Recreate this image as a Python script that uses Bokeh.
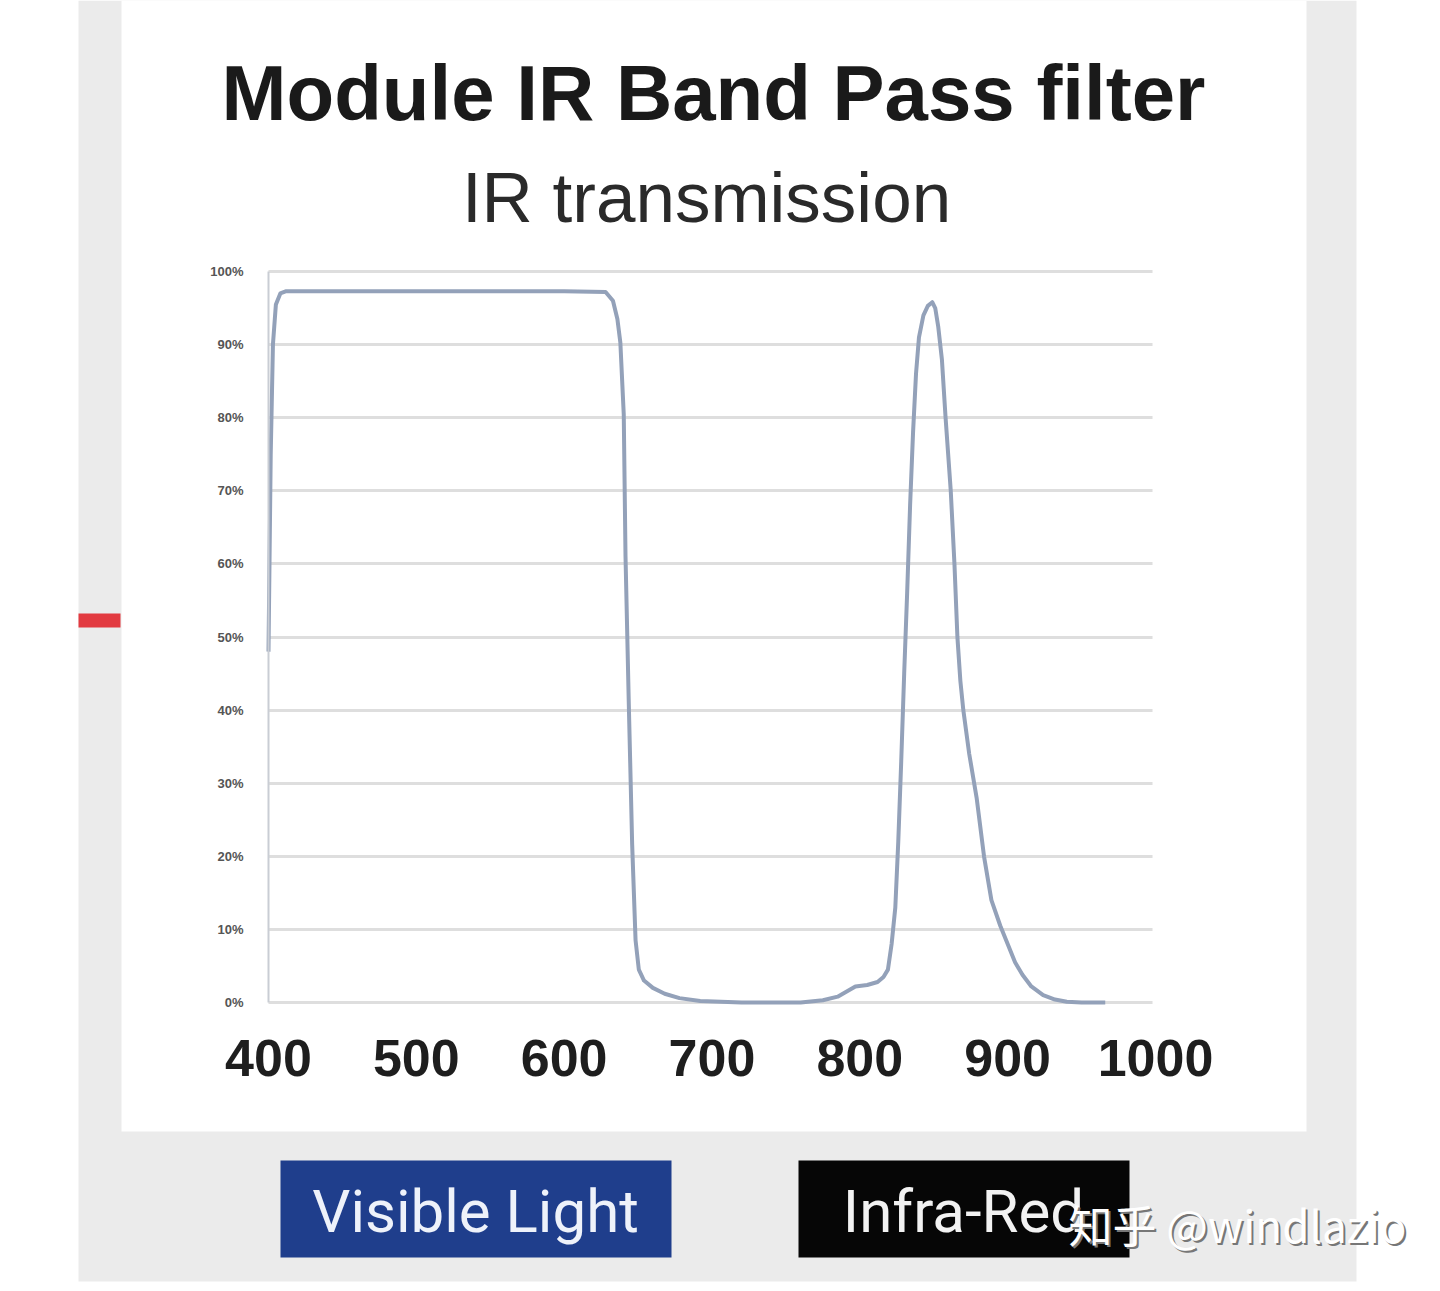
from bokeh.plotting import figure
from bokeh.models import Range1d, LinearAxis, FixedTicker, PrintfTickFormatter, Grid
from bokeh.core.properties import value
from bokeh.embed import file_html
from bokeh.resources import INLINE

# ---------------- data ----------------
title_text = "Module IR Band Pass filter"
subtitle_text = "IR transmission"
button_labels = ["Visible Light", "Infra-Red"]
watermark_text = "知乎 @windlazio"

wavelength_nm = [400, 401.5, 403, 405, 408, 412, 500, 600, 628, 633, 636, 638, 640.3, 641.5,
                 643.7, 646, 648.3, 650.5, 654, 660, 668, 678, 692, 720, 760, 775, 785, 792,
                 797, 805, 812, 816, 819, 821.5, 824, 826, 828, 830, 832, 834, 836, 838, 840,
                 843, 846, 849, 851, 853, 855.5, 858, 861.5, 864, 866, 868, 870, 874, 879, 884,
                 889, 895, 900, 905, 910, 916, 924, 932, 940, 950, 966]
transmission_pct = [48, 75, 90, 95.5, 97, 97.3, 97.3, 97.3, 97.2, 96, 93.5, 90.3, 80.5, 61,
                    41, 21.6, 8.5, 4.5, 3, 2, 1.2, 0.6, 0.2, 0, 0, 0.3, 0.8, 1.6,
                    2.2, 2.4, 2.8, 3.5, 4.5, 8, 13, 22, 33, 45, 56, 68, 78, 86, 91,
                    94, 95.3, 95.8, 95, 92.5, 88, 80, 70, 60, 50, 44, 40, 34, 28, 20,
                    14, 10.5, 8, 5.5, 3.8, 2.2, 1, 0.4, 0.1, 0, 0]
x_ticks = [400, 500, 600, 700, 800, 900, 1000]
y_ticks = [0, 10, 20, 30, 40, 50, 60, 70, 80, 90, 100]

# ---------------- layout (window pixels) ----------------
W, H = 1424, 1287
OX, OY = 0, 0
PX_X0, PX_X1 = 268, 1155   # pixel of 400 nm / 1000 nm
PX_Y0, PX_Y1 = 1002, 271   # pixel of 0 % / 100 %

sx = (PX_X1 - PX_X0) / (x_ticks[-1] - x_ticks[0])
sy = (PX_Y0 - PX_Y1) / (y_ticks[-1] - y_ticks[0])
x_start = x_ticks[0] - (PX_X0 - OX) / sx
x_end = x_ticks[0] + (OX + W - PX_X0) / sx
y_start = y_ticks[0] - (OY + H - PX_Y0) / sy
y_end = y_ticks[-1] + (PX_Y1 - OY) / sy

p = figure(width=W, height=H, x_range=Range1d(x_start, x_end), y_range=Range1d(y_start, y_end),
           x_axis_location=None, y_axis_location=None, toolbar_location=None,
           output_backend="svg", min_border=0, background_fill_color="white",
           border_fill_color="white", outline_line_color=None, title=None)
p.xgrid.visible = False
p.ygrid.visible = False

p.extra_x_ranges = {"px": Range1d(OX, OX + W)}
p.extra_y_ranges = {"py": Range1d(OY + H, OY)}

PIX = dict(x_range_name="px", y_range_name="py")

# background panels
p.quad(left=[78], right=[1356], top=[0], bottom=[1281], fill_color="#ebebeb",
       line_color=None, level="image", **PIX)
p.quad(left=[121], right=[1306], top=[0], bottom=[1131], fill_color="#ffffff",
       line_color=None, level="image", **PIX)
p.quad(left=[78], right=[120], top=[613], bottom=[627], fill_color="#e23a40",
       line_color=None, level="image", **PIX)

# grid lines
grid_kw = dict(dimension=1, ticker=FixedTicker(ticks=y_ticks), grid_line_color="#dedede",
               grid_line_width=3)
if "cross_bounds" in Grid.properties():
    p.add_layout(Grid(cross_bounds=(x_ticks[0], 998), **grid_kw), "center")
else:
    p.segment(x0=x_ticks[0], x1=998, y0=y_ticks, y1=y_ticks, line_color="#dedede",
              line_width=3, level="underlay")

# axes
xaxis = LinearAxis(fixed_location=0, ticker=FixedTicker(ticks=x_ticks), bounds=(400, 1000),
                   axis_line_color=None, major_tick_line_color=None, minor_tick_line_color=None,
                   major_label_standoff=31, major_label_text_font="Liberation Sans",
                   major_label_text_font_style="bold", major_label_text_font_size="52px",
                   major_label_text_color="#1e1e1e")
p.add_layout(xaxis, "below")
yaxis = LinearAxis(fixed_location=400, ticker=FixedTicker(ticks=y_ticks), bounds=(0, 100),
                   formatter=PrintfTickFormatter(format="%d%%"),
                   axis_line_color="#c9cdd4", axis_line_width=2,
                   major_tick_line_color=None, minor_tick_line_color=None,
                   major_label_standoff=19, major_label_text_font="Liberation Sans",
                   major_label_text_font_style="bold", major_label_text_font_size="13px",
                   major_label_text_color="#555555")
p.add_layout(yaxis, "left")

# curve
p.line(wavelength_nm, transmission_pct, line_color="#93a1b9", line_width=4, line_join="round")

# titles
p.text(x=[713], y=[92], text=[title_text], text_font=value("Liberation Sans"),
       text_font_style="bold", text_font_size="78px", text_color="#1a1a1a",
       text_align="center", text_baseline="alphabetic", **PIX)
p.text(x=[706], y=[197], text=[subtitle_text], text_font=value("Liberation Sans"),
       text_font_size="71px", text_color="#2a2a2a",
       text_align="center", text_baseline="alphabetic", **PIX)

# buttons
p.quad(left=[280, 798], right=[671, 1129], top=[1160, 1160], bottom=[1257, 1257],
       fill_color=["#1f3e8c", "#060606"], line_color=None, **PIX)
p.text(x=[475, 963], y=[1211, 1211], text=button_labels, text_font=value("Roboto"),
       text_font_size="60px", text_color=["#eef2fa", "#f2f2f2"],
       text_align="center", text_baseline="middle", **PIX)

# watermark
p.text(x=[1070], y=[1225], text=[watermark_text], text_font=value("Noto Sans CJK SC"),
       text_font_size="44px", text_color="#777777", text_align="left",
       text_baseline="middle", **PIX)
p.text(x=[1068], y=[1223], text=[watermark_text], text_font=value("Noto Sans CJK SC"),
       text_font_size="44px", text_color="#ffffff", text_align="left",
       text_baseline="middle", **PIX)

open("out.html", "w").write(file_html(p, INLINE))
